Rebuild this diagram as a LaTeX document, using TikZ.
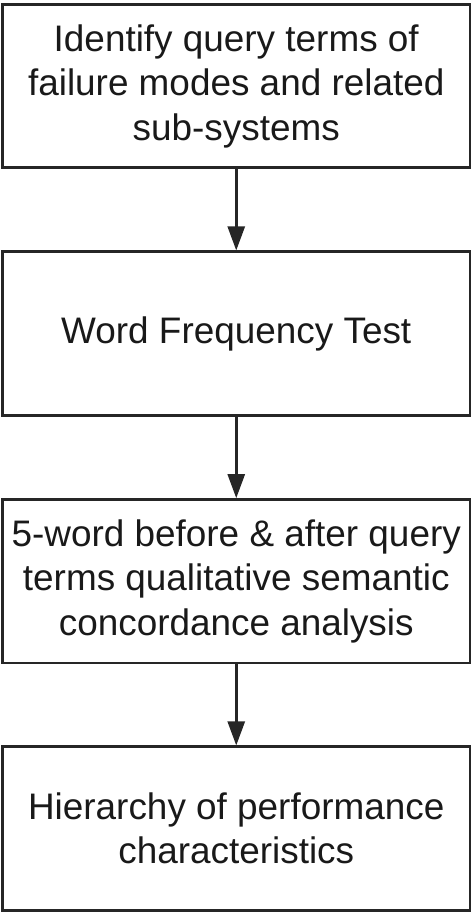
\documentclass[tikz,border=0pt]{standalone}
\usepackage{fontspec}
\setmainfont{Liberation Sans}
\usetikzlibrary{arrows.meta}
\begin{document}
\begin{tikzpicture}[x=1pt,y=-1pt,
  stepbox/.style={draw=black!85,line width=2.6pt,minimum width=467.5pt,minimum height=163.5pt,
    inner sep=0pt,align=center,text=black!90,font=\fontsize{36.9}{44.5}\selectfont},
  flow/.style={draw=black!85,line width=2.6pt,-{Triangle[length=24pt,width=17pt]}}]
\useasboundingbox (0,0) rectangle (474,914);
\node[stepbox] (a) at (236.25,86) {Identify query terms of\\failure modes and related\\sub-systems};
\node[stepbox] (b) at (236.25,333.5) {Word Frequency Test};
\node[stepbox] (c) at (236.25,581.2) {5-word before \& after query\\terms qualitative semantic\\concordance analysis};
\node[stepbox] (d) at (236.25,828.5) {Hierarchy of performance\\characteristics};
\draw[flow] (a) -- (b);
\draw[flow] (b) -- (c);
\draw[flow] (c) -- (d);
\end{tikzpicture}
\end{document}
